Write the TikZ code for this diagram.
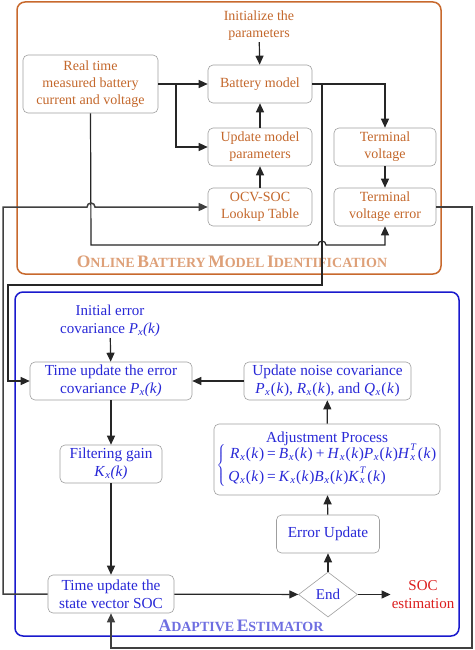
\documentclass[tikz,border=0pt]{standalone}
\usepackage{fontspec}
\setmainfont{Liberation Serif}
\usetikzlibrary{arrows.meta,shapes.geometric,calc}
\definecolor{ora}{RGB}{196,104,44}
\definecolor{oraframe}{RGB}{200,105,45}
\definecolor{oratitle}{RGB}{222,160,120}
\definecolor{blu}{RGB}{40,40,215}
\definecolor{bluframe}{RGB}{25,25,205}
\definecolor{blutitle}{RGB}{110,110,225}
\definecolor{socred}{RGB}{220,30,30}
\newcommand{\capsw}[2]{{\fontsize{17.5}{17.5}\selectfont #1}{\fontsize{14}{14}\selectfont #2}}
\newcommand{\vx}[2]{\textit{#1}\textsubscript{\textit{#2}}\textit{(k)}}
\newcommand{\mq}[2]{\textit{#1}\kern0.5pt\textsubscript{\textit{#2}}\kern0.5pt(\kern0.5pt\textit{k}\kern0.5pt)}
\newcommand{\mqt}[2]{\textit{#1}\kern0.5pt\rlap{\textsubscript{\textit{#2}}}\raisebox{1.05ex}{\fontsize{10}{10}\selectfont\textit{T}}\kern1.5pt(\kern0.5pt\textit{k}\kern0.5pt)}
\newcommand{\eqs}{\hspace{3pt}=\hspace{3pt}}
\newcommand{\pls}{\hspace{3pt}+\hspace{3pt}}
\begin{document}
\begin{tikzpicture}[x=1pt,y=-1pt,
 box/.style={draw=gray!75, rounded corners=5pt, line width=0.6pt, align=center, inner sep=0pt, fill=white},
 obox/.style={box, text=ora, font=\fontsize{14}{17}\selectfont},
 bbox/.style={box, text=blu, font=\fontsize{15.3}{18}\selectfont},
 conn/.style={line width=1.2pt, draw=black!85},
 arr/.style={conn, -{Triangle[length=9pt,width=8pt]}},
 outer/.style={arr, line width=1.5pt, draw=black!75},
 txt/.style={align=center, inner sep=1pt},
]
\useasboundingbox (0,0) rectangle (474,650);
\fill[white] (0,0) rectangle (474,650);

% frames
\draw[oraframe, line width=1.5pt, rounded corners=8pt] (17,2) rectangle (441,274);
\draw[bluframe, line width=1.5pt, rounded corners=8pt] (15,292) rectangle (459,636);
\node[text=oratitle, font=\bfseries, inner sep=0pt] (otitle) at (232,262) {\capsw{O}{NLINE} \capsw{B}{ATTERY} \capsw{M}{ODEL} \capsw{I}{DENTIFICATION}};
\node[text=blutitle, font=\bfseries, inner sep=0pt] (btitle) at (241,626) {\capsw{A}{DAPTIVE} \capsw{E}{STIMATOR}};

% orange nodes
\node[txt, text=ora, font=\fontsize{14}{17}\selectfont] (init) at (259,26) {Initialize the\\parameters};
\node[obox, minimum width=135, minimum height=58] (rt) at (90.5,84) {Real time\\measured battery\\current and voltage};
\node[obox, minimum width=104, minimum height=38] (bm) at (260,84) {Battery model};
\node[obox, minimum width=104, minimum height=38] (ump) at (260,147) {Update model\\parameters};
\node[obox, minimum width=104, minimum height=38] (ocv) at (260,207) {OCV-SOC\\Lookup Table};
\node[obox, minimum width=102, minimum height=38] (tv) at (385,147) {Terminal\\voltage};
\node[obox, minimum width=102, minimum height=38] (tve) at (385,207) {Terminal\\voltage error};

% blue nodes
\node[txt, text=blu, font=\fontsize{15}{18}\selectfont] (iec) at (110,321) {Initial error\\covariance \vx{P}{x}};
\node[bbox, minimum width=162, minimum height=38] (tue) at (111,381) {Time update the error\\covariance \vx{P}{x}};
\node[bbox, minimum width=102, minimum height=38] (fg) at (111,464) {Filtering gain\\\vx{K}{x}};
\node[bbox, minimum width=126, minimum height=38] (tus) at (111,594) {Time update the\\state vector SOC};
\node[bbox, minimum width=167, minimum height=38] (unc) at (327.5,381) {Update noise covariance\\\mq{P}{x}, \mq{R}{x}, and \mq{Q}{x}};
\node[bbox, minimum width=226, minimum height=71] (adj) at (327,459.5) {Adjustment Process\\[-3pt]
 {\fontsize{15.4}{18}\selectfont$\left\{\kern3pt\vcenter{\hbox{\begin{tabular}{@{}r@{}l@{}}
 \mq{R}{x} &\eqs\mq{B}{x}\pls\mq{H}{x}\mq{P}{x}\mqt{H}{x}\\[4pt]
 \mq{Q}{x} &\eqs\mq{K}{x}\mq{B}{x}\mqt{K}{x}
 \end{tabular}}}\right.$}};
\node[bbox, minimum width=103, minimum height=38] (eu) at (328,534) {Error Update};
\node[diamond, draw=gray!75, line width=0.6pt, text=blu, minimum width=59, minimum height=45, inner sep=0pt, font=\fontsize{15}{18}\selectfont, fill=white] (end) at (328,594.5) {End};
\node[txt, text=socred, font=\fontsize{15}{18}\selectfont] (soc) at (423,594.5) {SOC\\estimation};

% coordinates
\coordinate (br1) at (176,84);
\coordinate (br2) at (322,84);
\coordinate (c1) at (322,285);
\coordinate (c2) at (8,285);
\coordinate (d1) at (91,245);
\coordinate (h1) at (318,245);
\coordinate (e1) at (3,594);
\coordinate (e2) at (3,207);
\coordinate (h2) at (87,207);
\coordinate (f1) at (472,207);
\coordinate (f2) at (472,648);

% orange connectors
\draw[arr] (init) -- (bm);
\draw[arr] (rt.east) -- (bm.west);
\draw[arr] (br1) |- (ump.west);
\draw[arr] (ump) -- (bm);
\draw[arr] (ocv) -- (ump);
\draw[arr] (bm.east) -| (tv.north);
\draw[arr] (tv) -- (tve);
\draw[arr] (br2) -- (c1) -- (c2) |- (tue.west);
\draw[arr] (rt.south) -- (d1) -- (h1) arc(180:360:4) -| (tve.south);
\draw[outer] (tus.west) -- (e1) -- (e2) -- (h2) arc(180:360:4) -- (ocv.west);
\draw[outer] (tve.east) -- (f1) -- (f2) -| (tus.south);

% blue connectors
\draw[arr] (iec) -- (tue);
\draw[arr] (unc) -- (tue);
\draw[arr] (tue) -- (fg);
\draw[arr] (fg) -- (tus);
\draw[arr] (tus) -- (end);
\draw[arr] (end) -- (soc);
\draw[arr] (end) -- (eu);
\draw[arr] (eu) -- (adj);
\draw[arr] (adj) -- (unc);
\end{tikzpicture}
\end{document}
